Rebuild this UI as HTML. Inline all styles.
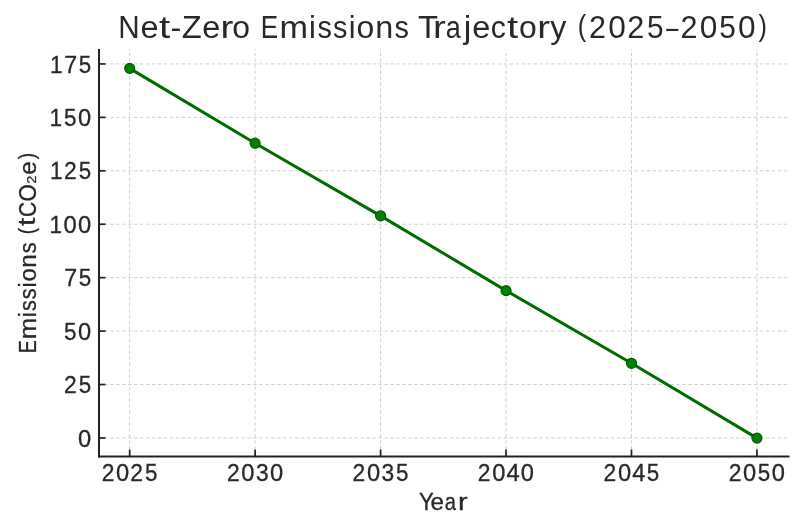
<!DOCTYPE html><html><head><meta charset="utf-8"><style>html,body{margin:0;padding:0;background:#fff;width:800px;height:531px;overflow:hidden}svg{display:block;will-change:transform}text{font-family:"Liberation Sans",sans-serif;fill:#282828}.b{stroke:#282828;stroke-width:0.3px}</style></head><body>
<svg width="800" height="531" viewBox="0 0 800 531">
<rect width="800" height="531" fill="#fff"/>
<g stroke="#cfcfcf" stroke-width="1.0" stroke-dasharray="3.4 2.56"><line x1="129.67" y1="456.5" x2="129.67" y2="49" stroke-dashoffset="4.86"/><line x1="255.127" y1="456.5" x2="255.127" y2="49" stroke-dashoffset="4.86"/><line x1="380.584" y1="456.5" x2="380.584" y2="49" stroke-dashoffset="4.86"/><line x1="506.041" y1="456.5" x2="506.041" y2="49" stroke-dashoffset="4.86"/><line x1="631.498" y1="456.5" x2="631.498" y2="49" stroke-dashoffset="4.86"/><line x1="756.955" y1="456.5" x2="756.955" y2="49" stroke-dashoffset="4.86"/><line x1="99" y1="437.95" x2="789.5" y2="437.95" stroke-dashoffset="0.67"/><line x1="99" y1="384.52" x2="789.5" y2="384.52" stroke-dashoffset="0.67"/><line x1="99" y1="331.09" x2="789.5" y2="331.09" stroke-dashoffset="0.67"/><line x1="99" y1="277.66" x2="789.5" y2="277.66" stroke-dashoffset="0.67"/><line x1="99" y1="224.23" x2="789.5" y2="224.23" stroke-dashoffset="0.67"/><line x1="99" y1="170.8" x2="789.5" y2="170.8" stroke-dashoffset="0.67"/><line x1="99" y1="117.37" x2="789.5" y2="117.37" stroke-dashoffset="0.67"/><line x1="99" y1="63.94" x2="789.5" y2="63.94" stroke-dashoffset="0.67"/></g>
<polyline fill="none" stroke="#006c00" stroke-width="3.0" stroke-linejoin="round" points="129.67,68.364 255.127,143.166 380.584,215.831 506.041,290.633 631.498,363.298 756.955,438.1"/>
<g fill="#008000" stroke="#005c00" stroke-width="1.2"><circle cx="129.67" cy="68.364" r="5.0"/><circle cx="255.127" cy="143.166" r="5.0"/><circle cx="380.584" cy="215.831" r="5.0"/><circle cx="506.041" cy="290.633" r="5.0"/><circle cx="631.498" cy="363.298" r="5.0"/><circle cx="756.955" cy="438.1" r="5.0"/></g>
<g stroke="#222" stroke-width="2.0" fill="none">
<line x1="99" y1="49" x2="99" y2="457.5"/>
<line x1="98" y1="456.5" x2="789.5" y2="456.5"/>
<line x1="129.67" y1="456.5" x2="129.67" y2="449.5" stroke-width="1.7"/>
<line x1="255.127" y1="456.5" x2="255.127" y2="449.5" stroke-width="1.7"/>
<line x1="380.584" y1="456.5" x2="380.584" y2="449.5" stroke-width="1.7"/>
<line x1="506.041" y1="456.5" x2="506.041" y2="449.5" stroke-width="1.7"/>
<line x1="631.498" y1="456.5" x2="631.498" y2="449.5" stroke-width="1.7"/>
<line x1="756.955" y1="456.5" x2="756.955" y2="449.5" stroke-width="1.7"/>
<line x1="99" y1="437.95" x2="105.5" y2="437.95" stroke-width="1.7"/>
<line x1="99" y1="384.52" x2="105.5" y2="384.52" stroke-width="1.7"/>
<line x1="99" y1="331.09" x2="105.5" y2="331.09" stroke-width="1.7"/>
<line x1="99" y1="277.66" x2="105.5" y2="277.66" stroke-width="1.7"/>
<line x1="99" y1="224.23" x2="105.5" y2="224.23" stroke-width="1.7"/>
<line x1="99" y1="170.8" x2="105.5" y2="170.8" stroke-width="1.7"/>
<line x1="99" y1="117.37" x2="105.5" y2="117.37" stroke-width="1.7"/>
<line x1="99" y1="63.94" x2="105.5" y2="63.94" stroke-width="1.7"/>
</g>
<text font-size="31.842" transform="matrix(0.9318 0 0 0.9997 118.266 38)">N</text>
<text font-size="31.842" transform="matrix(1.0191 0 0 0.9888 140.502 38.12)">e</text>
<text font-size="31.842" transform="matrix(1.2607 0 0 1.0124 158.905 37.748)">t</text>
<text font-size="31.842" transform="matrix(1.0168 0 0 0.9660 170.514 37.943)">-</text>
<text font-size="31.842" transform="matrix(1.0249 0 0 0.9997 181.639 38)">Z</text>
<text font-size="31.842" transform="matrix(1.0191 0 0 0.9888 202.181 38.12)">e</text>
<text font-size="31.842" transform="matrix(1.2087 0 0 0.9818 220.555 38)">r</text>
<text font-size="31.842" transform="matrix(1.0031 0 0 0.9888 232.374 38.12)">o</text>
<text font-size="31.842" transform="matrix(0.8175 0 0 0.9997 260.799 38)">E</text>
<text font-size="31.842" transform="matrix(1.0750 0 0 0.9818 279.421 38)">m</text>
<text font-size="31.842" transform="matrix(0.9644 0 0 0.9893 309.006 38)">i</text>
<text font-size="31.842" transform="matrix(0.9043 0 0 0.9915 317.403 38.119)">s</text>
<text font-size="31.842" transform="matrix(0.9043 0 0 0.9915 333.053 38.119)">s</text>
<text font-size="31.842" transform="matrix(0.9644 0 0 0.9893 348.653 38)">i</text>
<text font-size="31.842" transform="matrix(1.0031 0 0 0.9888 356.539 38.12)">o</text>
<text font-size="31.842" transform="matrix(1.0174 0 0 0.9818 375.178 38)">n</text>
<text font-size="31.842" transform="matrix(0.9043 0 0 0.9915 394.468 38.119)">s</text>
<text font-size="31.842" transform="matrix(1.0290 0 0 0.9997 418.015 38)">T</text>
<text font-size="31.842" transform="matrix(1.2087 0 0 0.9818 432.93 38)">r</text>
<text font-size="31.842" transform="matrix(0.8486 0 0 0.9888 445.764 38.12)">a</text>
<text font-size="31.842" transform="matrix(1.0644 0 0 0.9795 463.801 37.775)">j</text>
<text font-size="31.842" transform="matrix(1.0191 0 0 0.9888 472.143 38.12)">e</text>
<text font-size="31.842" transform="matrix(0.9467 0 0 0.9888 490.722 38.12)">c</text>
<text font-size="31.842" transform="matrix(1.2607 0 0 1.0124 507.062 37.748)">t</text>
<text font-size="31.842" transform="matrix(1.0031 0 0 0.9888 518.956 38.12)">o</text>
<text font-size="31.842" transform="matrix(1.2087 0 0 0.9818 537.19 38)">r</text>
<text font-size="31.842" transform="matrix(1.0130 0 0 0.9678 550.187 37.852)">y</text>
<text font-size="31.842" transform="matrix(0.7972 0 0 0.9019 577.703 36.016)">(</text>
<text font-size="31.842" transform="matrix(0.9584 0 0 1.0028 589.082 38)">2</text>
<text font-size="31.842" transform="matrix(0.9945 0 0 1.0079 608.272 38.114)">0</text>
<text font-size="31.842" transform="matrix(0.9584 0 0 1.0028 627.307 38)">2</text>
<text font-size="31.842" transform="matrix(0.9386 0 0 1.0050 646.875 38.115)">5</text>
<text font-size="31.842" transform="matrix(0.6831 0 0 0.9916 666.334 37.781)">–</text>
<text font-size="31.842" transform="matrix(0.9584 0 0 1.0028 680.552 38)">2</text>
<text font-size="31.842" transform="matrix(0.9945 0 0 1.0079 699.741 38.114)">0</text>
<text font-size="31.842" transform="matrix(0.9386 0 0 1.0050 719.232 38.115)">5</text>
<text font-size="31.842" transform="matrix(0.9945 0 0 1.0079 737.966 38.114)">0</text>
<text font-size="31.842" transform="matrix(0.7972 0 0 0.9019 758.594 36.016)">)</text>
<text class="b" font-size="23.85" transform="matrix(0.9584 0 0 1.0028 101.697 480.7)">2</text>
<text class="b" font-size="23.85" transform="matrix(0.9945 0 0 1.0079 116.07 480.785)">0</text>
<text class="b" font-size="23.85" transform="matrix(0.9584 0 0 1.0028 130.327 480.7)">2</text>
<text class="b" font-size="23.85" transform="matrix(0.9386 0 0 1.0050 144.984 480.786)">5</text>
<text class="b" font-size="23.85" transform="matrix(0.9584 0 0 1.0028 226.918 480.7)">2</text>
<text class="b" font-size="23.85" transform="matrix(0.9945 0 0 1.0079 241.291 480.785)">0</text>
<text class="b" font-size="23.85" transform="matrix(0.9548 0 0 1.0079 255.898 480.785)">3</text>
<text class="b" font-size="23.85" transform="matrix(0.9945 0 0 1.0079 269.922 480.785)">0</text>
<text class="b" font-size="23.85" transform="matrix(0.9584 0 0 1.0028 352.611 480.7)">2</text>
<text class="b" font-size="23.85" transform="matrix(0.9945 0 0 1.0079 366.984 480.785)">0</text>
<text class="b" font-size="23.85" transform="matrix(0.9548 0 0 1.0079 381.59 480.785)">3</text>
<text class="b" font-size="23.85" transform="matrix(0.9386 0 0 1.0050 395.898 480.786)">5</text>
<text class="b" font-size="23.85" transform="matrix(0.9584 0 0 1.0028 477.832 480.7)">2</text>
<text class="b" font-size="23.85" transform="matrix(0.9945 0 0 1.0079 492.205 480.785)">0</text>
<text class="b" font-size="23.85" transform="matrix(0.9946 0 0 0.9997 506.519 480.7)">4</text>
<text class="b" font-size="23.85" transform="matrix(0.9945 0 0 1.0079 520.836 480.785)">0</text>
<text class="b" font-size="23.85" transform="matrix(0.9584 0 0 1.0028 603.525 480.7)">2</text>
<text class="b" font-size="23.85" transform="matrix(0.9945 0 0 1.0079 617.898 480.785)">0</text>
<text class="b" font-size="23.85" transform="matrix(0.9946 0 0 0.9997 632.212 480.7)">4</text>
<text class="b" font-size="23.85" transform="matrix(0.9386 0 0 1.0050 646.812 480.786)">5</text>
<text class="b" font-size="23.85" transform="matrix(0.9584 0 0 1.0028 728.746 480.7)">2</text>
<text class="b" font-size="23.85" transform="matrix(0.9945 0 0 1.0079 743.119 480.785)">0</text>
<text class="b" font-size="23.85" transform="matrix(0.9386 0 0 1.0050 757.718 480.786)">5</text>
<text class="b" font-size="23.85" transform="matrix(0.9945 0 0 1.0079 771.75 480.785)">0</text>
<text class="b" font-size="23.85" transform="matrix(0.9945 0 0 1.0079 77.936 446.635)">0</text>
<text class="b" font-size="23.85" transform="matrix(0.9584 0 0 1.0028 64.034 393.12)">2</text>
<text class="b" font-size="23.85" transform="matrix(0.9386 0 0 1.0050 78.69 393.206)">5</text>
<text class="b" font-size="23.85" transform="matrix(0.9386 0 0 1.0050 63.904 339.776)">5</text>
<text class="b" font-size="23.85" transform="matrix(0.9945 0 0 1.0079 77.936 339.775)">0</text>
<text class="b" font-size="23.85" transform="matrix(0.9728 0 0 0.9997 64.191 286.26)">7</text>
<text class="b" font-size="23.85" transform="matrix(0.9386 0 0 1.0050 78.69 286.346)">5</text>
<text class="b" font-size="23.85" transform="matrix(0.9498 0 0 0.9997 49.494 232.83)">1</text>
<text class="b" font-size="23.85" transform="matrix(0.9945 0 0 1.0079 63.62 232.915)">0</text>
<text class="b" font-size="23.85" transform="matrix(0.9945 0 0 1.0079 77.936 232.915)">0</text>
<text class="b" font-size="23.85" transform="matrix(0.9498 0 0 0.9997 49.965 179.4)">1</text>
<text class="b" font-size="23.85" transform="matrix(0.9584 0 0 1.0028 64.034 179.4)">2</text>
<text class="b" font-size="23.85" transform="matrix(0.9386 0 0 1.0050 78.69 179.486)">5</text>
<text class="b" font-size="23.85" transform="matrix(0.9498 0 0 0.9997 49.494 125.97)">1</text>
<text class="b" font-size="23.85" transform="matrix(0.9386 0 0 1.0050 63.904 126.056)">5</text>
<text class="b" font-size="23.85" transform="matrix(0.9945 0 0 1.0079 77.936 126.055)">0</text>
<text class="b" font-size="23.85" transform="matrix(0.9498 0 0 0.9997 49.965 72.54)">1</text>
<text class="b" font-size="23.85" transform="matrix(0.9728 0 0 0.9997 64.191 72.54)">7</text>
<text class="b" font-size="23.85" transform="matrix(0.9386 0 0 1.0050 78.69 72.626)">5</text>
<text class="b" font-size="23.85" transform="matrix(0.9310 0 0 0.9997 419.018 509.9)">Y</text>
<text class="b" font-size="23.85" transform="matrix(1.0191 0 0 0.9888 430.523 509.99)">e</text>
<text class="b" font-size="23.85" transform="matrix(0.8486 0 0 0.9888 444.647 509.99)">a</text>
<text class="b" font-size="23.85" transform="matrix(1.2087 0 0 0.9818 458.073 509.9)">r</text>
<g transform="translate(35.5,351.7) rotate(-90)">
<text class="b" font-size="23.85" transform="matrix(0.8175 0 0 0.9997 -1.599 0)">E</text>
<text class="b" font-size="23.85" transform="matrix(1.0750 0 0 0.9818 12.348 0)">m</text>
<text class="b" font-size="23.85" transform="matrix(0.9644 0 0 0.9893 34.508 0)">i</text>
<text class="b" font-size="23.85" transform="matrix(0.9043 0 0 0.9915 40.797 0.089)">s</text>
<text class="b" font-size="23.85" transform="matrix(0.9043 0 0 0.9915 52.52 0.089)">s</text>
<text class="b" font-size="23.85" transform="matrix(0.9644 0 0 0.9893 64.204 0)">i</text>
<text class="b" font-size="23.85" transform="matrix(1.0031 0 0 0.9888 70.11 0.09)">o</text>
<text class="b" font-size="23.85" transform="matrix(1.0174 0 0 0.9818 84.071 0)">n</text>
<text class="b" font-size="23.85" transform="matrix(0.9043 0 0 0.9915 98.519 0.089)">s</text>
<text class="b" font-size="23.85" transform="matrix(0.7972 0 0 0.9019 117.529 -1.486)">(</text>
<text class="b" font-size="23.85" transform="matrix(1.2607 0 0 1.0124 125.702 -0.189)">t</text>
<text class="b" font-size="23.85" transform="matrix(0.8759 0 0 1.0079 134.576 0.085)">C</text>
<text class="b" font-size="23.85" transform="matrix(0.9327 0 0 1.0079 150.293 0.085)">O</text>
<text class="b" font-size="23.85" transform="matrix(0.9547 0 0 0.9759 167.694 -1.904)">₂</text>
<text class="b" font-size="23.85" transform="matrix(1.0191 0 0 0.9888 177.023 0.09)">e</text>
<text class="b" font-size="23.85" transform="matrix(0.7972 0 0 0.9019 192.349 -1.486)">)</text>
</g>
</svg></body></html>
